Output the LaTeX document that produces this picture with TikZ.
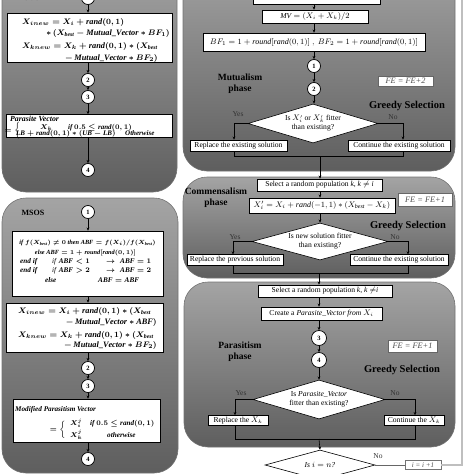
\documentclass[tikz,border=0pt]{standalone}
\usepackage{amsmath,amssymb}
\usepackage{fontspec}
\setmainfont{Liberation Serif}
\usetikzlibrary{arrows.meta,shapes.geometric}
\definecolor{panelTop}{HTML}{A4A4A4}
\definecolor{panelBot}{HTML}{5E5E5E}
\newcommand{\rnd}{\mathit{rand}}
\newcommand{\mutv}{\mathit{Mutual\_Vector}}
\newcommand{\rnda}{\mathit{round}}
\newcommand{\abf}{\mathit{ABF}}
\newcommand{\bst}{\mathit{best}}
\begin{document}
\begin{tikzpicture}[x=1pt,y=-1pt]
\tikzset{
  panel/.style={rounded corners=24pt, top color=panelTop, bottom color=panelBot, draw=black!55, line width=0.6pt},
  wbox/.style={rectangle, draw=black, fill=white, line width=0.6pt, inner sep=0pt, font=\fontsize{7.6}{9}\selectfont},
  num/.style={circle, draw=black, fill=white, line width=0.7pt, minimum size=13pt, inner sep=0pt, font=\bfseries\fontsize{6.5}{7}\selectfont},
  bignum/.style={num, minimum size=15pt},
  dia/.style={diamond, draw=black, fill=white, line width=0.6pt, inner sep=0pt, align=center, font=\fontsize{7.6}{9}\selectfont},
  arr/.style={-{Stealth[length=3.2pt,width=2.8pt]}, line width=0.6pt, draw=black},
  lin/.style={line width=0.6pt, draw=black},
  phase/.style={font=\bfseries\fontsize{9.5}{11}\selectfont, align=center, inner sep=0pt},
  plabel/.style={font=\bfseries\fontsize{8}{9}\selectfont, inner sep=0pt},
  greedy/.style={font=\bfseries\fontsize{10.5}{12}\selectfont, inner sep=0pt},
  yn/.style={font=\fontsize{7.5}{8}\selectfont, text=black!80, inner sep=0pt},
  febox/.style={rectangle, draw=black!60, fill=white, line width=0.4pt, inner sep=0pt, font=\itshape\fontsize{8.3}{9}\selectfont, text=black!70},
  eqa/.style={font=\boldmath\bfseries\fontsize{8.3}{9}\selectfont, inner sep=0pt},
  eqb/.style={font=\boldmath\bfseries\fontsize{7.2}{8}\selectfont, inner sep=0pt},
  eqd/.style={font=\boldmath\bfseries\fontsize{6.3}{8}\selectfont, inner sep=0pt},
  eqc/.style={font=\boldmath\bfseries\fontsize{7}{7}\selectfont, inner sep=0pt},
  loopline/.style={draw=black!25, line width=2pt},
  gline/.style={draw=black!60, line width=0.6pt},
  incbox/.style={rectangle, draw=black!55, fill=white, line width=0.5pt, inner sep=0pt, font=\itshape\fontsize{7}{8}\selectfont, text=black!70},
}
\useasboundingbox (0,0) rectangle (474,474);
\clip (0,0) rectangle (474,474);

% ---------------- panels ----------------
\draw[panel] (2,-40) rectangle (177,192);
\draw[panel] (2,198) rectangle (178,473);
\draw[panel] (183,-40) rectangle (455,171);
\draw[panel] (183,177) rectangle (455,278);
\draw[panel] (184,282) rectangle (455,447);

% ---------------- SOS ----------------
\node[plabel] (sosLab) at (32,-2) {SOS};
\node[num] (sos1) at (88,-2) {1};
\node[wbox, minimum width=165pt, minimum height=49pt] (sosEq) at (89.5,37.5) {};
\node[eqa, anchor=base west] (sosT1) at (22,24) {$X_{inew} = X_i + \rnd(0,1)$};
\node[eqa, anchor=base east] (sosT2) at (170,35) {$\ast\,(X_{\bst} - \mutv\ast BF_1)$};
\node[eqa, anchor=base west] (sosT3) at (22,48) {$X_{knew} = X_k + \rnd(0,1)\ast(X_{\bst}$};
\node[eqa, anchor=base east] (sosT4) at (158,60) {$-\,\mutv\ast BF_2)$};
\node[num] (sos2) at (88,80) {2};
\node[num] (sos3) at (88,97) {3};
\node[wbox, minimum width=166pt, minimum height=23pt] (sosPV) at (89,126) {};
\node[eqc, anchor=base west, font=\boldmath\bfseries\fontsize{7.8}{8}\selectfont] (pvT1) at (10,121.5) {\textit{Parasite Vector}};
\node[eqc, anchor=west] (pvT2) at (4.5,131) {$=\left\{\rule[-5.5pt]{0pt}{12pt}\right.$};
\node[eqc, anchor=base west] (pvT3) at (40,129) {$X_k$};
\node[eqc, anchor=base west] (pvT4) at (68,129) {$\mathit{if}\ 0.5\le\rnd(0,1)$};
\node[eqc, anchor=base west] (pvT5) at (16,135.5) {$\mathit{LB}+\rnd(0,1)\ast(\mathit{UB}-\mathit{LB})$};
\node[eqc, anchor=base west] (pvT6) at (125,135.5) {$\mathit{Otherwise}$};
\node[num] (sos4) at (88,170) {4};

\draw[arr] (sos1.south) -- (sos1.south |- sosEq.north);
\draw[arr] (sos2 |- sosEq.south) -- (sos2.north);
\draw[arr] (sos2.south) -- (sos3.north);
\draw[arr] (sos3.south) -- (sos3.south |- sosPV.north);
\draw[arr] (sos4 |- sosPV.south) -- (sos4.north);

% ---------------- MSOS ----------------
\node[plabel] (msLab) at (33,213) {MSOS};
\node[num] (ms1) at (88,212) {1};
\node[wbox, minimum width=151pt, minimum height=65pt] (msIf) at (87.5,263.5) {};
\node[eqd, anchor=base] (ifT1) at (87.5,244.5) {\textit{if} $f(X_{\bst})\neq 0$ \textit{then} $\abf = f(X_i)/f(X_{\bst})$};
\node[eqd, anchor=base] (ifT2) at (85.5,254.5) {\textit{else} $\abf = 1 + \rnda[\rnd(0,1)]$};
\node[eqb, anchor=base west] (ifT3a) at (20,263.5) {\textit{end if}};
\node[eqb, anchor=base west] (ifT3b) at (52,263.5) {\mdseries\textit{if} $\abf<1$};
\node[eqb, anchor=base west] (ifT3c) at (106,263.5) {$\rightarrow$};
\node[eqb, anchor=base west] (ifT3d) at (120,263.5) {$\abf = 1$};
\node[eqb, anchor=base west] (ifT4a) at (20,272.5) {\textit{end if}};
\node[eqb, anchor=base west] (ifT4b) at (52,272.5) {\mdseries\textit{if} $\abf>2$};
\node[eqb, anchor=base west] (ifT4c) at (106,272.5) {$\rightarrow$};
\node[eqb, anchor=base west] (ifT4d) at (120,272.5) {$\abf = 2$};
\node[eqb, anchor=base west] (ifT5a) at (45,282.5) {\textit{else}};
\node[eqb, anchor=base west] (ifT5b) at (98,282.5) {$\abf = \abf$};
\node[wbox, minimum width=157pt, minimum height=49pt] (msX) at (84.5,327.5) {};
\node[eqa, anchor=base west] (mxT1) at (18,313) {$X_{inew} = X_i + \rnd(0,1)\ast(X_{\bst}$};
\node[eqa, anchor=base east] (mxT2) at (157,324) {$-\,\mutv\ast \abf)$};
\node[eqa, anchor=base west] (mxT3) at (18,337) {$X_{knew} = X_k + \rnd(0,1)\ast(X_{\bst}$};
\node[eqa, anchor=base east] (mxT4) at (157,347.5) {$-\,\mutv\ast BF_2)$};
\node[num] (ms2) at (88,368) {2};
\node[num] (ms3) at (88,386) {3};
\node[wbox, minimum width=147pt, minimum height=43pt] (msMod) at (86.5,420.5) {};
\node[eqb, anchor=base west] (mdT1) at (15,411) {\textit{Modified Parasitism Vector}};
\node[eqb, anchor=east] (mdT2) at (67,430) {$=\left\{\rule[-7pt]{0pt}{15pt}\right.$};
\node[eqb, anchor=base west] (mdT3) at (70,425.5) {$X_i^j$};
\node[eqb, anchor=base west] (mdT4) at (90,425.5) {$\mathit{if}\ 0.5\le\rnd(0,1)$};
\node[eqb, anchor=base west] (mdT5) at (70,437) {$X_k^j$};
\node[eqb, anchor=base west] (mdT6) at (107,437) {$\mathit{otherwise}$};
\node[num] (ms4) at (88,459) {4};

\draw[arr] (ms1.south) -- (ms1.south |- msIf.north);
\draw[arr] (ms1 |- msIf.south) -- (ms1 |- msX.north);
\draw[arr] (ms2 |- msX.south) -- (ms2.north);
\draw[arr] (ms2.south) -- (ms3.north);
\draw[arr] (ms3.south) -- (ms3.south |- msMod.north);
\draw[arr] (ms4 |- msMod.south) -- (ms4.north);

% ---------------- Mutualism ----------------
\node[wbox, minimum width=127pt, minimum height=14pt] (top) at (316.5,-3) {};
\node[wbox, minimum width=106pt, minimum height=13pt, font=\itshape\fontsize{7.6}{9}\selectfont] (mv) at (315,16.5) {$\mathit{MV} = (X_i + X_k)/2$};
\node[wbox, minimum width=222pt, minimum height=18pt, font=\fontsize{8}{9}\selectfont] (bf) at (314,42) {$BF_1 = 1+\rnda[\rnd(0,1)]\ ,\ BF_2 = 1+\rnda[\rnd(0,1)]$};
\node[num] (m1) at (314,66) {1};
\node[phase] (mLab) at (240,83.5) {Mutualism\\phase};
\node[febox, minimum width=55pt, minimum height=10pt] (mFE) at (405.5,81) {FE = FE+2};
\node[num] (m2) at (314,89) {2};
\node[greedy] (mGr) at (407,106) {Greedy Selection};
\node[dia, minimum width=130pt, minimum height=39pt, aspect=3.33] (md) at (313,123.5) {Is $X_i'$ or $X_k'$ fitter\\than existing?};
\node[yn] (mYes) at (238,114) {Yes};
\node[yn] (mNo) at (393,117) {No};
\node[wbox, minimum width=97pt, minimum height=11pt] (rep1) at (238.5,145.5) {Replace the existing solution};
\node[wbox, minimum width=102pt, minimum height=11pt] (con1) at (399,145.5) {Continue the existing solution};
\coordinate (mL) at (234,156);
\coordinate (mR) at (403,156);
\coordinate (mJ) at (320,156);

\draw[arr] (top.south -| m1) -- (mv.north -| m1);
\draw[arr] (mv.south -| m1) -- (bf.north -| m1);
\draw[arr] (bf.south -| m1) -- (m1.north);
\draw[arr] (m1.south) -- (m2.north);
\draw[arr] (m2.south) -- (m2.south |- md.north);
\draw[arr] (md.west) -| (rep1.north -| mL);
\draw[arr] (md.east) -| (con1.north -| mR);
\draw[lin] (rep1.south -| mL) -- (mL) -- (mR) -- (con1.south -| mR);

% ---------------- Commensalism ----------------
\node[wbox, minimum width=125pt, minimum height=12pt] (cSel) at (319.5,185) {Select a random population \textit{k}, \textit{k} $\neq$ \textit{i}};
\node[phase] (cLab) at (216,198) {Commensalism\\phase};
\node[wbox, minimum width=146pt, minimum height=15pt, font=\fontsize{8}{9}\selectfont] (cX) at (322,205.5) {$X_i' = X_i + \rnd(-1,1)\ast(X_{\bst}-X_k)$};
\node[febox, minimum width=54pt, minimum height=13pt] (cFE) at (425,199.5) {FE = FE+1};
\node[greedy] (cGr) at (408,226) {Greedy Selection};
\node[dia, minimum width=136pt, minimum height=37pt, aspect=3.6] (cd) at (320,241.5) {Is new solution fitter\\than existing?};
\node[yn] (cYes) at (235,237) {Yes};
\node[yn] (cNo) at (395,237) {No};
\node[wbox, minimum width=96pt, minimum height=10.5pt] (rep2) at (235,260) {Replace the previous solution};
\node[wbox, minimum width=98pt, minimum height=10.5pt] (con2) at (399,260) {Continue the existing solution};
\coordinate (cL) at (233,273);
\coordinate (cR) at (408,273);
\coordinate (cJ) at (319,273);

\draw[arr] (mJ) -- (mJ |- cSel.north);
\draw[arr] (cSel.south -| cd) -- (cX.north -| cd);
\draw[arr] (cX.south -| cd) -- (cd.north);
\draw[arr] (cd.west) -| (rep2.north -| cL);
\draw[arr] (cd.east) -| (con2.north -| cR);
\draw[lin] (rep2.south -| cL) -- (cL) -- (cR) -- (con2.south -| cR);

% ---------------- Parasitism ----------------
\node[wbox, minimum width=134pt, minimum height=12pt] (pSel) at (325,291) {Select a random population \textit{k}, \textit{k} $\neq$\textit{i}};
\node[wbox, minimum width=121pt, minimum height=13pt] (pCr) at (321.5,313.5) {Create a \textit{Parasite\_Vector from} $X_i$};
\node[bignum] (p3) at (319,338) {3};
\node[bignum] (p4) at (319,360) {4};
\node[phase] (pLab) at (240,352) {Parasitism\\phase};
\node[febox, minimum width=49pt, minimum height=12pt] (pFE) at (412.5,346) {FE = FE+1};
\node[greedy] (pGr) at (402,370) {Greedy Selection};
\node[dia, minimum width=132pt, minimum height=39pt, aspect=3.4] (pd) at (319,399.5) {Is \textit{Parasite\_Vector}\\fitter than existing?};
\node[yn] (pYes) at (241,393) {Yes};
\node[yn] (pNo) at (395,393) {No};
\node[wbox, minimum width=60pt, minimum height=10pt] (rep3) at (238,420.5) {Replace the $X_k$};
\node[wbox, minimum width=60pt, minimum height=10pt] (con3) at (414,420.5) {Continue the $X_k$};
\coordinate (pL) at (235,439);
\coordinate (pR) at (415,439);
\coordinate (pJ) at (319,439);

\draw[arr] (cJ) -- (cJ |- pSel.north);
\draw[arr] (pSel.south -| p3) -- (pCr.north -| p3);
\draw[arr] (pCr.south -| p3) -- (p3.north);
\draw[arr] (p3.south) -- (p4.north);
\draw[arr] (p4.south) -- (pd.north);
\draw[arr] (pd.west) -| (rep3.north -| pL);
\draw[arr] (pd.east) -| (con3.north -| pR);
\draw[lin] (rep3.south -| pL) -- (pL) -- (pR) -- (con3.south -| pR);

% ---------------- final test ----------------
\node[dia, minimum width=110pt, minimum height=30pt, aspect=3.7, font=\itshape\fontsize{7.6}{9}\selectfont] (fd) at (320,465) {Is $i = n$?};
\node[yn] (fNo) at (378,456) {No};
\node[incbox, minimum width=36pt, minimum height=9pt] (inc) at (423,465) {i = i +1};
\coordinate (loopR) at (462,465);
\coordinate (loopT) at (462,-20);

\draw[arr] (pJ) -- (fd.north);
\draw[gline] (fd.east) -- (inc.west);
\draw[loopline] (inc.east) -- (loopR) -- (loopT);
\end{tikzpicture}
\end{document}
